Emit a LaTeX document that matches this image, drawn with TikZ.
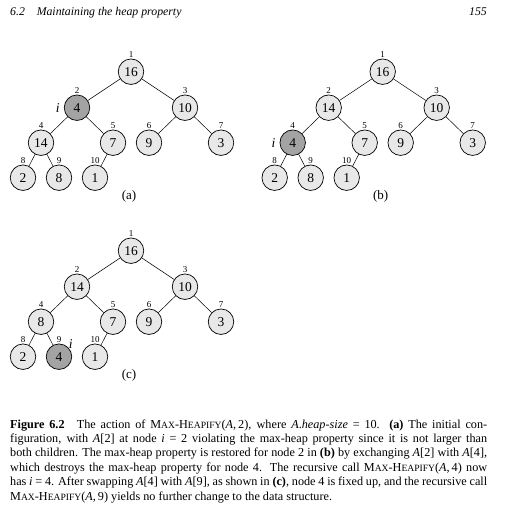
\documentclass[tikz,border=0pt]{standalone}
\usepackage{fontspec}
\setmainfont{Liberation Serif}
\newcommand{\mhname}{M{\fontsize{9.6}{10}\selectfont AX}-H{\fontsize{9.6}{10}\selectfont EAPIFY}}
\newcommand{\capline}[1]{\makebox[477pt][s]{#1}}
\tikzset{
  heapnode/.style={circle, draw, line width=0.7pt, fill=gray!18, minimum size=25.5pt, inner sep=0pt,
    label distance=1pt, font=\fontsize{13.5}{15}\selectfont},
  darknode/.style={heapnode, fill=gray!72},
  idx/.style={font=\fontsize{9}{10}\selectfont, inner sep=1pt},
  ilab/.style={font=\fontsize{13.5}{15}\selectfont\itshape, inner sep=1pt},
  edge/.style={line width=0.5pt},
  capfont/.style={font=\fontsize{12.2}{14}\selectfont, inner sep=0pt, anchor=base west}
}
\begin{document}
\begin{tikzpicture}[x=1pt, y=-1pt]
  \useasboundingbox (0,0) rectangle (505,514);
  \node[capfont, font=\fontsize{11.8}{14}\selectfont] (hdl) at (10,16) {\itshape 6.2\quad Maintaining the heap property};
  \node[capfont, font=\fontsize{11.8}{14}\selectfont, anchor=base east] (hdr) at (487,16) {\itshape 155};
  % (a)
  \begin{scope}[shift={(131,71.7)}]
    \node[heapnode, label={[idx]above:1}] (a1) at (0,0) {16};
    \node[darknode, label={[idx]above:2}, label={[ilab, label distance=3pt]left:i}] (a2) at (-54,36) {4};
    \node[heapnode, label={[idx]above:3}] (a3) at (54,36) {10};
    \node[heapnode, label={[idx]above:4}] (a4) at (-90,71) {14};
    \node[heapnode, label={[idx]above:5}] (a5) at (-18,71) {7};
    \node[heapnode, label={[idx]above:6}] (a6) at (18,71) {9};
    \node[heapnode, label={[idx]above:7}] (a7) at (90,71) {3};
    \node[heapnode, label={[idx]above:8}] (a8) at (-108,106) {2};
    \node[heapnode, label={[idx]above:9}] (a9) at (-72,106) {8};
    \node[heapnode, label={[idx]above:10}] (a10) at (-36,106) {1};
    \foreach \p/\c in {1/2,1/3,2/4,2/5,3/6,3/7,4/8,4/9,5/10} \draw[edge] (a\p) -- (a\c);
    \node[font=\fontsize{13}{15}\selectfont] (capa) at (-2,125) {(a)};
  \end{scope}
  % (b)
  \begin{scope}[shift={(382.7,71.7)}]
    \node[heapnode, label={[idx]above:1}] (b1) at (0,0) {16};
    \node[heapnode, label={[idx]above:2}] (b2) at (-54,36) {14};
    \node[heapnode, label={[idx]above:3}] (b3) at (54,36) {10};
    \node[darknode, label={[idx]above:4}, label={[ilab, label distance=3pt]left:i}] (b4) at (-90,71) {4};
    \node[heapnode, label={[idx]above:5}] (b5) at (-18,71) {7};
    \node[heapnode, label={[idx]above:6}] (b6) at (18,71) {9};
    \node[heapnode, label={[idx]above:7}] (b7) at (90,71) {3};
    \node[heapnode, label={[idx]above:8}] (b8) at (-108,106) {2};
    \node[heapnode, label={[idx]above:9}] (b9) at (-72,106) {8};
    \node[heapnode, label={[idx]above:10}] (b10) at (-36,106) {1};
    \foreach \p/\c in {1/2,1/3,2/4,2/5,3/6,3/7,4/8,4/9,5/10} \draw[edge] (b\p) -- (b\c);
    \node[font=\fontsize{13}{15}\selectfont] (capb) at (-2,125) {(b)};
  \end{scope}
  % (c)
  \begin{scope}[shift={(131,250.7)}]
    \node[heapnode, label={[idx]above:1}] (c1) at (0,0) {16};
    \node[heapnode, label={[idx]above:2}] (c2) at (-54,36) {14};
    \node[heapnode, label={[idx]above:3}] (c3) at (54,36) {10};
    \node[heapnode, label={[idx]above:4}] (c4) at (-90,71) {8};
    \node[heapnode, label={[idx]above:5}] (c5) at (-18,71) {7};
    \node[heapnode, label={[idx]above:6}] (c6) at (18,71) {9};
    \node[heapnode, label={[idx]above:7}] (c7) at (90,71) {3};
    \node[heapnode, label={[idx]above:8}] (c8) at (-108,106) {2};
    \node[darknode, label={[idx]above:9}, label={[ilab, xshift=-0.5pt, yshift=-2.5pt]above right:i}] (c9) at (-72,106) {4};
    \node[heapnode, label={[idx]above:10}] (c10) at (-36,106) {1};
    \foreach \p/\c in {1/2,1/3,2/4,2/5,3/6,3/7,4/8,4/9,5/10} \draw[edge] (c\p) -- (c\c);
    \node[font=\fontsize{13}{15}\selectfont] (capc) at (-2,125) {(c)};
  \end{scope}
  % caption
  \node[capfont] (cap1) at (10,428) {\capline{\textbf{Figure 6.2}\quad The action of \mhname(\textit{A},\,2), where \textit{A}.\textit{heap-size} = 10. \textbf{(a)} The initial con-}};
  \node[capfont] (cap2) at (10,442.4) {\capline{figuration, with \textit{A}[2] at node \textit{i} = 2 violating the max-heap property since it is not larger than}};
  \node[capfont] (cap3) at (10,456.8) {\capline{both children. The max-heap property is restored for node 2 in \textbf{(b)} by exchanging \textit{A}[2] with \textit{A}[4],}};
  \node[capfont] (cap4) at (10,471.2) {\capline{which destroys the max-heap property for node 4. The recursive call \mhname(\textit{A},\,4) now}};
  \node[capfont] (cap5) at (10,485.6) {\capline{has \textit{i} = 4. After swapping \textit{A}[4] with \textit{A}[9], as shown in \textbf{(c)}, node 4 is fixed up, and the recursive call}};
  \node[capfont] (cap6) at (10,500) {\mhname(\textit{A},\,9) yields no further change to the data structure.};
\end{tikzpicture}
\end{document}
